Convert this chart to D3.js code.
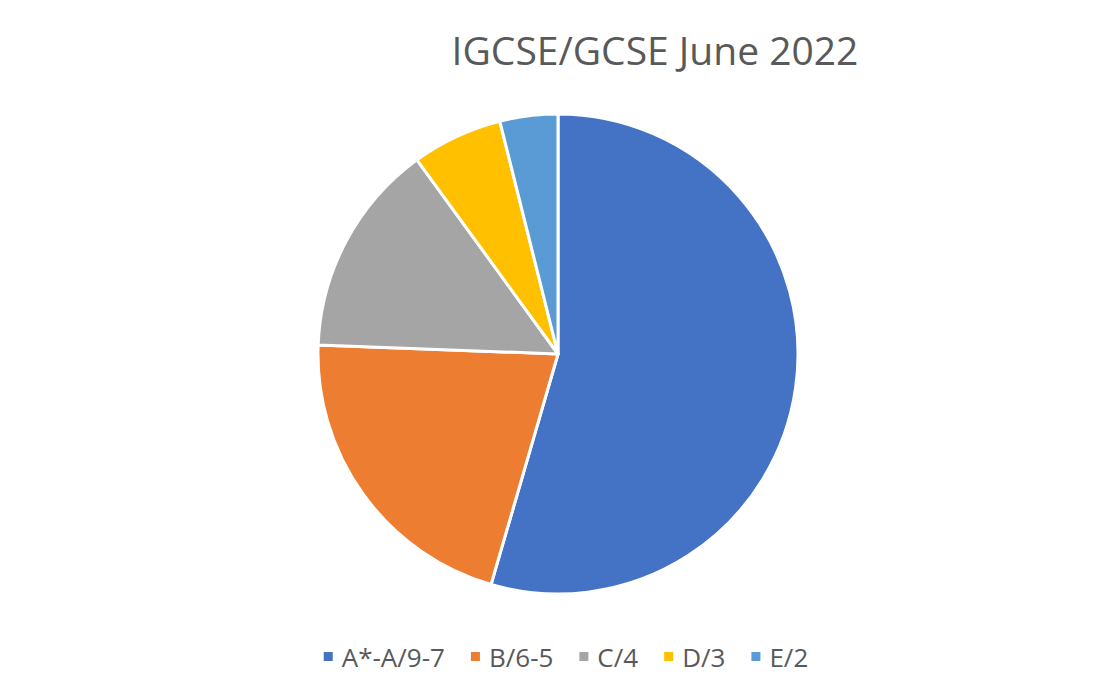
<!DOCTYPE html>
<html>
<head>
<meta charset="utf-8">
<script src="https://cdn.jsdelivr.net/npm/d3@7"></script>
<style>
  body { margin: 0; background: #fff; }
  text { font-family: "Open Sans", "Liberation Sans", sans-serif; fill: #595959; }
</style>
</head>
<body>
<div id="chart"></div>
<script>
// data (percent of entries)
const grades = ['A*-A/9-7', 'B/6-5', 'C/4', 'D/3', 'E/2'];
const shares = [54.5, 21.1, 14.4, 6.1, 3.9];
const colours = ['#4472C4', '#ED7D31', '#A5A5A5', '#FFC000', '#5B9BD5'];
const title = 'IGCSE/GCSE June 2022';

const width = 1117, height = 698;
const cx = 558, cy = 354, radius = 240;

const svg = d3.select('#chart')
    .append('svg')
    .attr('width', width)
    .attr('height', height);

// titel
svg.append('text')
    .attr('x', 655)
    .attr('y', 65)
    .attr('text-anchor', 'middle')
    .style('font-size', '39px')
    .text(title);

const data = grades.map((g, i) => ({ grade: g, value: shares[i], colour: colours[i] }));

const pie = d3.pie()
    .value(d => d.value)
    .sort(null);

const arc = d3.arc()
    .innerRadius(0)
    .outerRadius(radius);

const chart = svg.append('g')
    .attr('transform', `translate(${cx}, ${cy})`);

chart.selectAll('path')
    .data(pie(data))
    .enter().append('path')
    .attr('d', arc)
    .attr('fill', d => d.data.colour)
    .attr('stroke', '#fff')
    .attr('stroke-width', 3)
    .attr('stroke-linejoin', 'round');

// legend
const legend = svg.append('g');
const items = legend.selectAll('g')
    .data(data)
    .enter().append('g');

items.append('rect')
    .attr('width', 9)
    .attr('height', 9)
    .attr('y', -15)
    .attr('fill', d => d.colour);

items.append('text')
    .attr('x', 18)
    .attr('y', 0)
    .style('font-size', '26px')
    .text(d => d.grade);

let xpos = 0;
items.each(function () {
    const w = this.querySelector('text').getComputedTextLength();
    d3.select(this).attr('transform', `translate(${xpos}, 0)`);
    xpos += 18 + w + 26;
});
const total = xpos - 26;
legend.attr('transform', `translate(${566 - total / 2}, 667)`);
</script>
</body>
</html>
